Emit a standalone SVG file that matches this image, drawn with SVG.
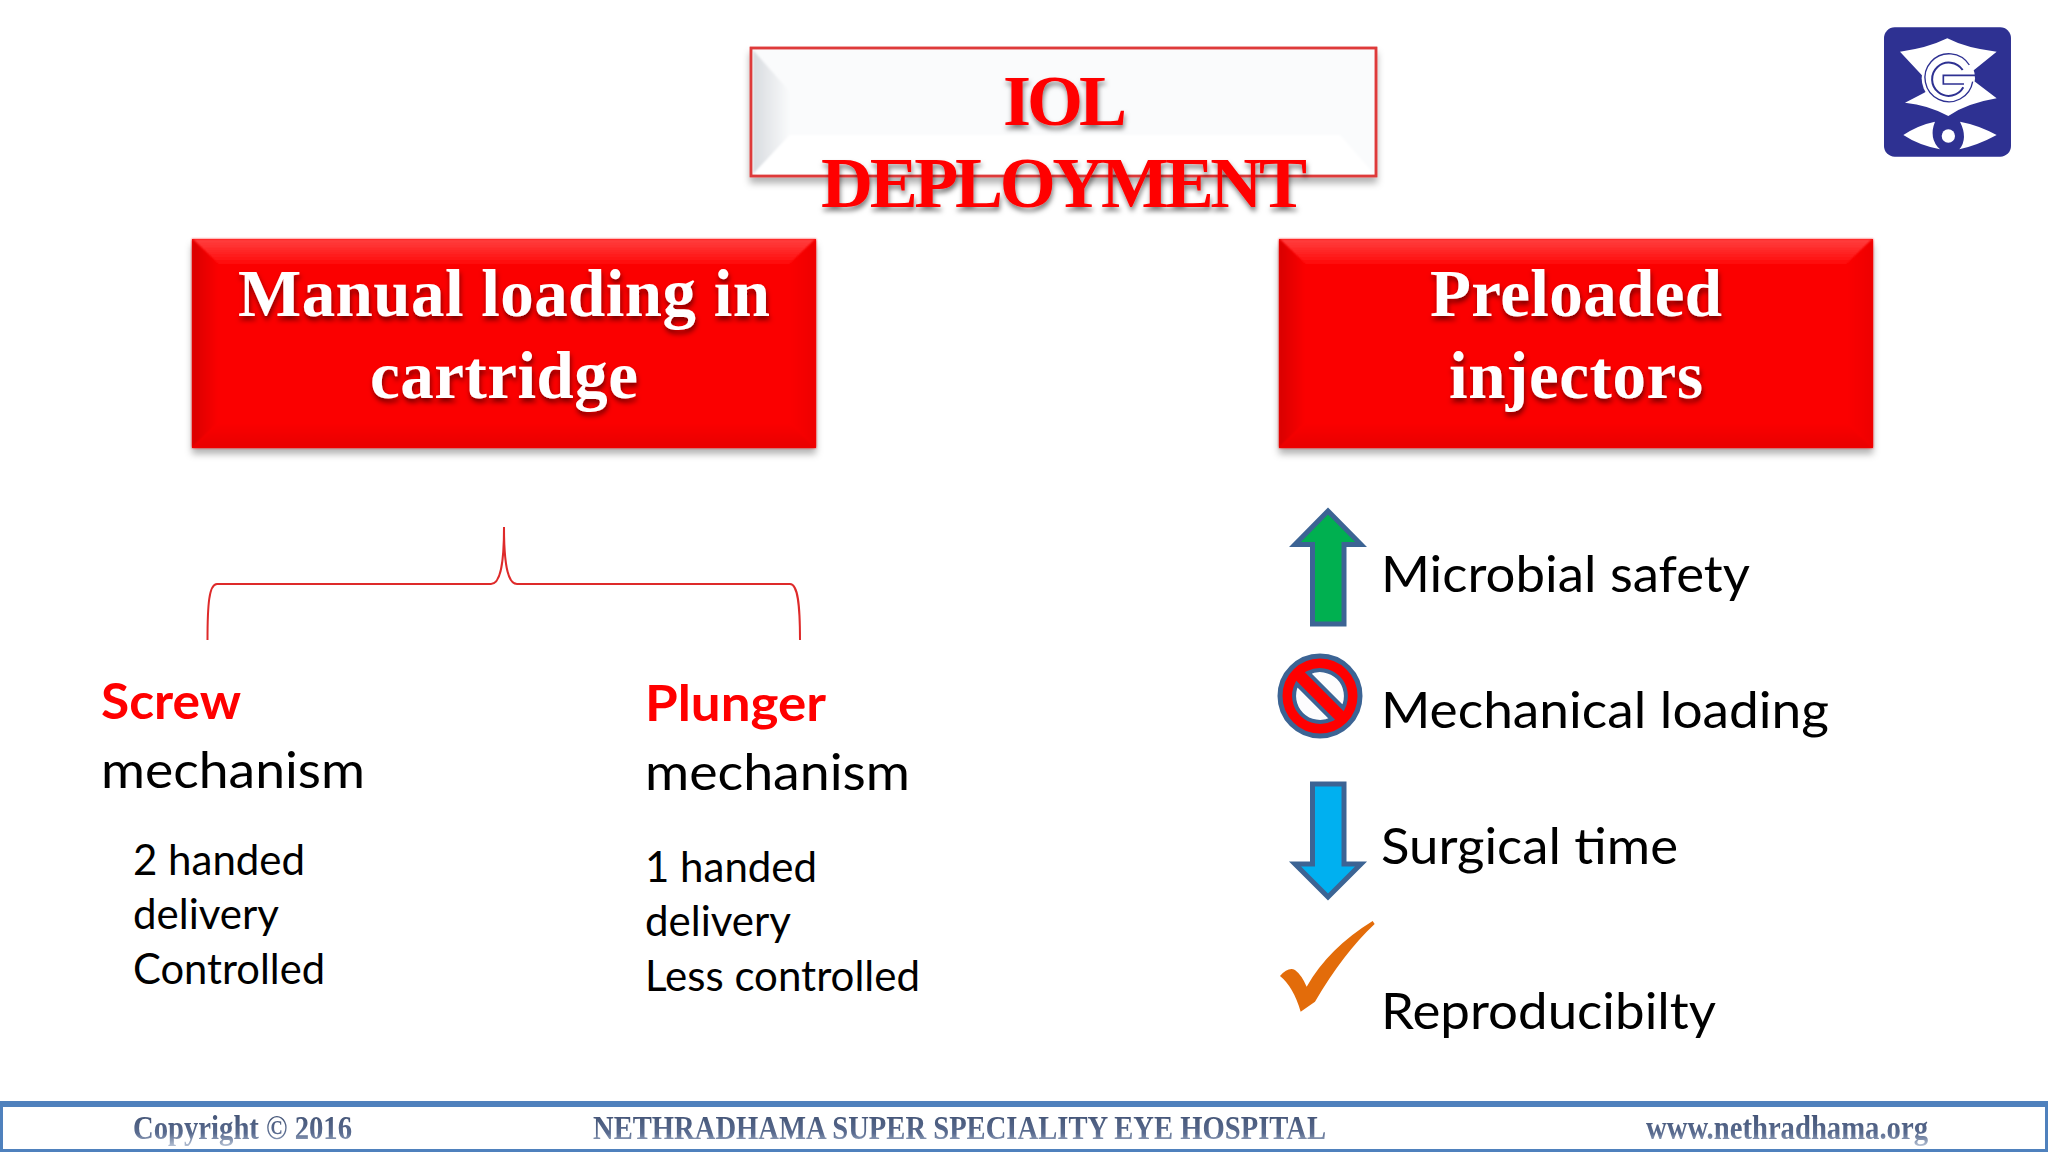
<svg xmlns="http://www.w3.org/2000/svg" width="2048" height="1152" viewBox="0 0 2048 1152">
<defs>
<style>
.title{font-family:"Liberation Serif","Times New Roman",serif;font-weight:700;text-anchor:middle}
.body{font-family:Lato,"Open Sans",sans-serif;fill:#000}
.red{fill:#ff0000;font-weight:700}
.foot{font-family:"Liberation Serif","Times New Roman",serif;font-weight:700;font-size:33px;fill:url(#footGrad);filter:url(#soft)}
.arrow{stroke:#3c6494;stroke-width:5;stroke-linejoin:miter}
</style>
<linearGradient id="footGrad" x1="0" y1="0" x2="0" y2="1"><stop offset="0" stop-color="#3f4f70"/><stop offset=".65" stop-color="#5a6c90"/><stop offset="1" stop-color="#b3bfd2"/></linearGradient>
<linearGradient id="topBevel" x1="0" y1="0" x2="0" y2="1"><stop offset="0" stop-color="#ff4040"/><stop offset="1" stop-color="#ff0a0a"/></linearGradient>
<linearGradient id="leftBevel" x1="0" y1="0" x2="1" y2="0"><stop offset="0" stop-color="#d80000"/><stop offset="1" stop-color="#fb0000"/></linearGradient>
<linearGradient id="rightBevel" x1="0" y1="0" x2="1" y2="0"><stop offset="0" stop-color="#fb0000"/><stop offset="1" stop-color="#ee0000"/></linearGradient>
<linearGradient id="bottomBevel" x1="0" y1="0" x2="0" y2="1"><stop offset="0" stop-color="#fb0000"/><stop offset="1" stop-color="#e80000"/></linearGradient>
<linearGradient id="grayBevel" x1="0" y1="0" x2="1" y2="0"><stop offset="0" stop-color="#d8dbdf"/><stop offset="1" stop-color="#fafbfc"/></linearGradient>
<filter id="boxShadow" x="-5%" y="-10%" width="110%" height="125%"><feDropShadow dx="0" dy="6" stdDeviation="3.5" flood-color="#000" flood-opacity=".3"/></filter>
<filter id="textShadow" x="-5%" y="-10%" width="110%" height="130%"><feDropShadow dx="1" dy="4" stdDeviation="2.500" flood-color="#000" flood-opacity=".5"/></filter>
<filter id="soft"><feGaussianBlur stdDeviation=".6"/></filter>
<filter id="bevelBlur"><feGaussianBlur stdDeviation="1.2"/></filter>
</defs>
<rect width="2048" height="1152" fill="#fff"/>

<g id="node-title">
<rect x="751" y="48" width="625" height="128" fill="#fafbfc" stroke="#de3a3a" stroke-width="2.500" filter="url(#boxShadow)"/>
<polygon points="753,50 790,92 790,135 753,174" fill="url(#grayBevel)" filter="url(#bevelBlur)"/>
<polygon points="755,174 790,135 1340,135 1374,174" fill="#fff" filter="url(#bevelBlur)"/>
<rect x="751" y="48" width="625" height="128" fill="none" stroke="#de3a3a" stroke-width="2.500"/>
<text class="title" x="1065" y="125" font-size="72" fill="#ff0000" filter="url(#textShadow)" textLength="124" lengthAdjust="spacing">IOL</text>
<text class="title" x="1064" y="207" font-size="72" fill="#ff0000" filter="url(#textShadow)" textLength="486" lengthAdjust="spacing">DEPLOYMENT</text>
</g>

<g id="node-manual">
<rect x="192" y="239" width="624" height="209" fill="#fb0000" filter="url(#boxShadow)"/>
<polygon points="192,239 816,239 790,264 218,264" fill="url(#topBevel)" filter="url(#bevelBlur)"/>
<polygon points="192,239 218,264 218,423 192,448" fill="url(#leftBevel)" filter="url(#bevelBlur)"/>
<polygon points="816,239 790,264 790,423 816,448" fill="url(#rightBevel)" filter="url(#bevelBlur)"/>
<polygon points="192,448 218,423 790,423 816,448" fill="url(#bottomBevel)" filter="url(#bevelBlur)"/>
<text class="title" x="504" y="316" font-size="67" fill="#fff" filter="url(#textShadow)" textLength="532" lengthAdjust="spacing">Manual loading in</text>
<text class="title" x="504" y="398" font-size="67" fill="#fff" filter="url(#textShadow)" textLength="268" lengthAdjust="spacing">cartridge</text>
</g>

<g id="node-preloaded">
<rect x="1279" y="239" width="594" height="209" fill="#fb0000" filter="url(#boxShadow)"/>
<polygon points="1279,239 1873,239 1847,264 1305,264" fill="url(#topBevel)" filter="url(#bevelBlur)"/>
<polygon points="1279,239 1305,264 1305,423 1279,448" fill="url(#leftBevel)" filter="url(#bevelBlur)"/>
<polygon points="1873,239 1847,264 1847,423 1873,448" fill="url(#rightBevel)" filter="url(#bevelBlur)"/>
<polygon points="1279,448 1305,423 1847,423 1873,448" fill="url(#bottomBevel)" filter="url(#bevelBlur)"/>
<text class="title" x="1576" y="316" font-size="67" fill="#fff" filter="url(#textShadow)" textLength="292" lengthAdjust="spacing">Preloaded</text>
<text class="title" x="1576" y="398" font-size="67" fill="#fff" filter="url(#textShadow)" textLength="254" lengthAdjust="spacing">injectors</text>
</g>

<g id="connectors">
<path d="M207.500,640 C207.500,605 209,584 217,584 L491,584 C499,584 504,570 504,527 C504,570 509,584 517,584 L790,584 C798,584 800,605 800,640" fill="none" stroke="#de2a2a" stroke-width="2"/>
</g>

<g id="node-screw">
<text class="body red" x="101" y="719" font-size="50" textLength="140" lengthAdjust="spacingAndGlyphs">Screw</text>
<text class="body" x="101" y="788" font-size="51" textLength="264" lengthAdjust="spacingAndGlyphs">mechanism</text>
<text class="body" x="133" y="875" font-size="42" textLength="172" lengthAdjust="spacingAndGlyphs">2 handed</text>
<text class="body" x="133" y="929" font-size="42" textLength="146" lengthAdjust="spacingAndGlyphs">delivery</text>
<text class="body" x="133" y="984" font-size="42" textLength="192" lengthAdjust="spacingAndGlyphs">Controlled</text>
</g>

<g id="node-plunger">
<text class="body red" x="645" y="721" font-size="50" textLength="181" lengthAdjust="spacingAndGlyphs">Plunger</text>
<text class="body" x="645" y="790" font-size="51" textLength="265" lengthAdjust="spacingAndGlyphs">mechanism</text>
<text class="body" x="645" y="882" font-size="42" textLength="172" lengthAdjust="spacingAndGlyphs">1 handed</text>
<text class="body" x="645" y="936" font-size="42" textLength="146" lengthAdjust="spacingAndGlyphs">delivery</text>
<text class="body" x="645" y="991" font-size="42" textLength="275" lengthAdjust="spacingAndGlyphs">Less controlled</text>
</g>

<g id="node-microbial">
<polygon class="arrow" points="1328,511 1361,544.5 1344,544.5 1344,624 1312.500,624 1312.500,544.5 1295,544.5" fill="#00b050"/>
<text class="body" x="1381" y="592" font-size="51" textLength="369" lengthAdjust="spacingAndGlyphs">Microbial safety</text>
</g>

<g id="node-mechanical">
<g transform="translate(1320,696)">
<circle r="40" fill="#ff0000" stroke="#3c6494" stroke-width="5"/>
<g transform="rotate(45)" fill="#fdfdfe" stroke="#3c6494" stroke-width="4">
<path d="M-24.7,-8 A26,26 0 0 1 24.7,-8 Z"/>
<path d="M-24.7,8 A26,26 0 0 0 24.7,8 Z"/>
</g>
</g>
<text class="body" x="1381" y="728" font-size="51" textLength="448" lengthAdjust="spacingAndGlyphs">Mechanical loading</text>
</g>

<g id="node-surgical">
<polygon class="arrow" points="1312.500,784 1344,784 1344,864 1361,864 1328,897 1295,864 1312.500,864" fill="#00b0f0"/>
<text class="body" x="1381" y="864" font-size="51" textLength="297" lengthAdjust="spacingAndGlyphs">Surgical time</text>
</g>

<g id="node-reproducibility">
<path transform="translate(1260,770) scale(.3333)" d="M60,618 Q85,590 105,600 Q125,615 140,650 Q205,535 338,453 L344,462 Q250,550 165,695 L122,725 Q100,650 60,618 Z" fill="#e36c0a"/>
<text class="body" x="1381" y="1029" font-size="51" textLength="335" lengthAdjust="spacingAndGlyphs">Reproducibilty</text>
</g>

<g id="node-logo">
<g transform="translate(1860,10) scale(.3333)">
<rect x="72" y="52" width="381" height="388" rx="32" fill="#2e3192"/>
<path d="M120,125 Q200,115 262,85 Q320,115 410,125 L345,178 L265,240 L190,200 Z" fill="#fff"/>
<path d="M135,278 L190,250 L270,205 L345,215 L410,265 Q320,280 265,318 Q205,285 135,278 Z" fill="#fff"/>
<circle cx="265" cy="205" r="80" fill="#fff"/>
<path d="M328,165 A72,72 0 1 0 338,215" fill="none" stroke="#2e3192" stroke-width="4"/>
<path d="M308,180 A50,50 0 1 0 310,232" fill="none" stroke="#2e3192" stroke-width="6"/>
<path d="M345,196 L250,196 L250,222 L312,222" fill="none" stroke="#2e3192" stroke-width="5"/>
<path d="M130,375 Q175,345 225,335 Q205,385 240,418 Q175,405 130,375 Z" fill="#fff"/>
<path d="M300,335 Q355,345 410,375 Q355,405 298,418 Q325,385 300,335 Z" fill="#fff"/>
<circle cx="265" cy="378" r="20" fill="#fff"/>
</g>
</g>

<g id="footer">
<rect x="1.500" y="1103.500" width="2045" height="47" fill="#fff" stroke="#4f81bd" stroke-width="3"/>
<rect x="0" y="1101" width="2048" height="6" fill="#4f81bd"/>
<text class="foot" x="133" y="1139" textLength="219" lengthAdjust="spacingAndGlyphs">Copyright © 2016</text>
<text class="foot" x="593" y="1139" textLength="733" lengthAdjust="spacingAndGlyphs">NETHRADHAMA SUPER SPECIALITY EYE HOSPITAL</text>
<text class="foot" x="1646" y="1139" textLength="282" lengthAdjust="spacingAndGlyphs">www.nethradhama.org</text>
</g>
</svg>
